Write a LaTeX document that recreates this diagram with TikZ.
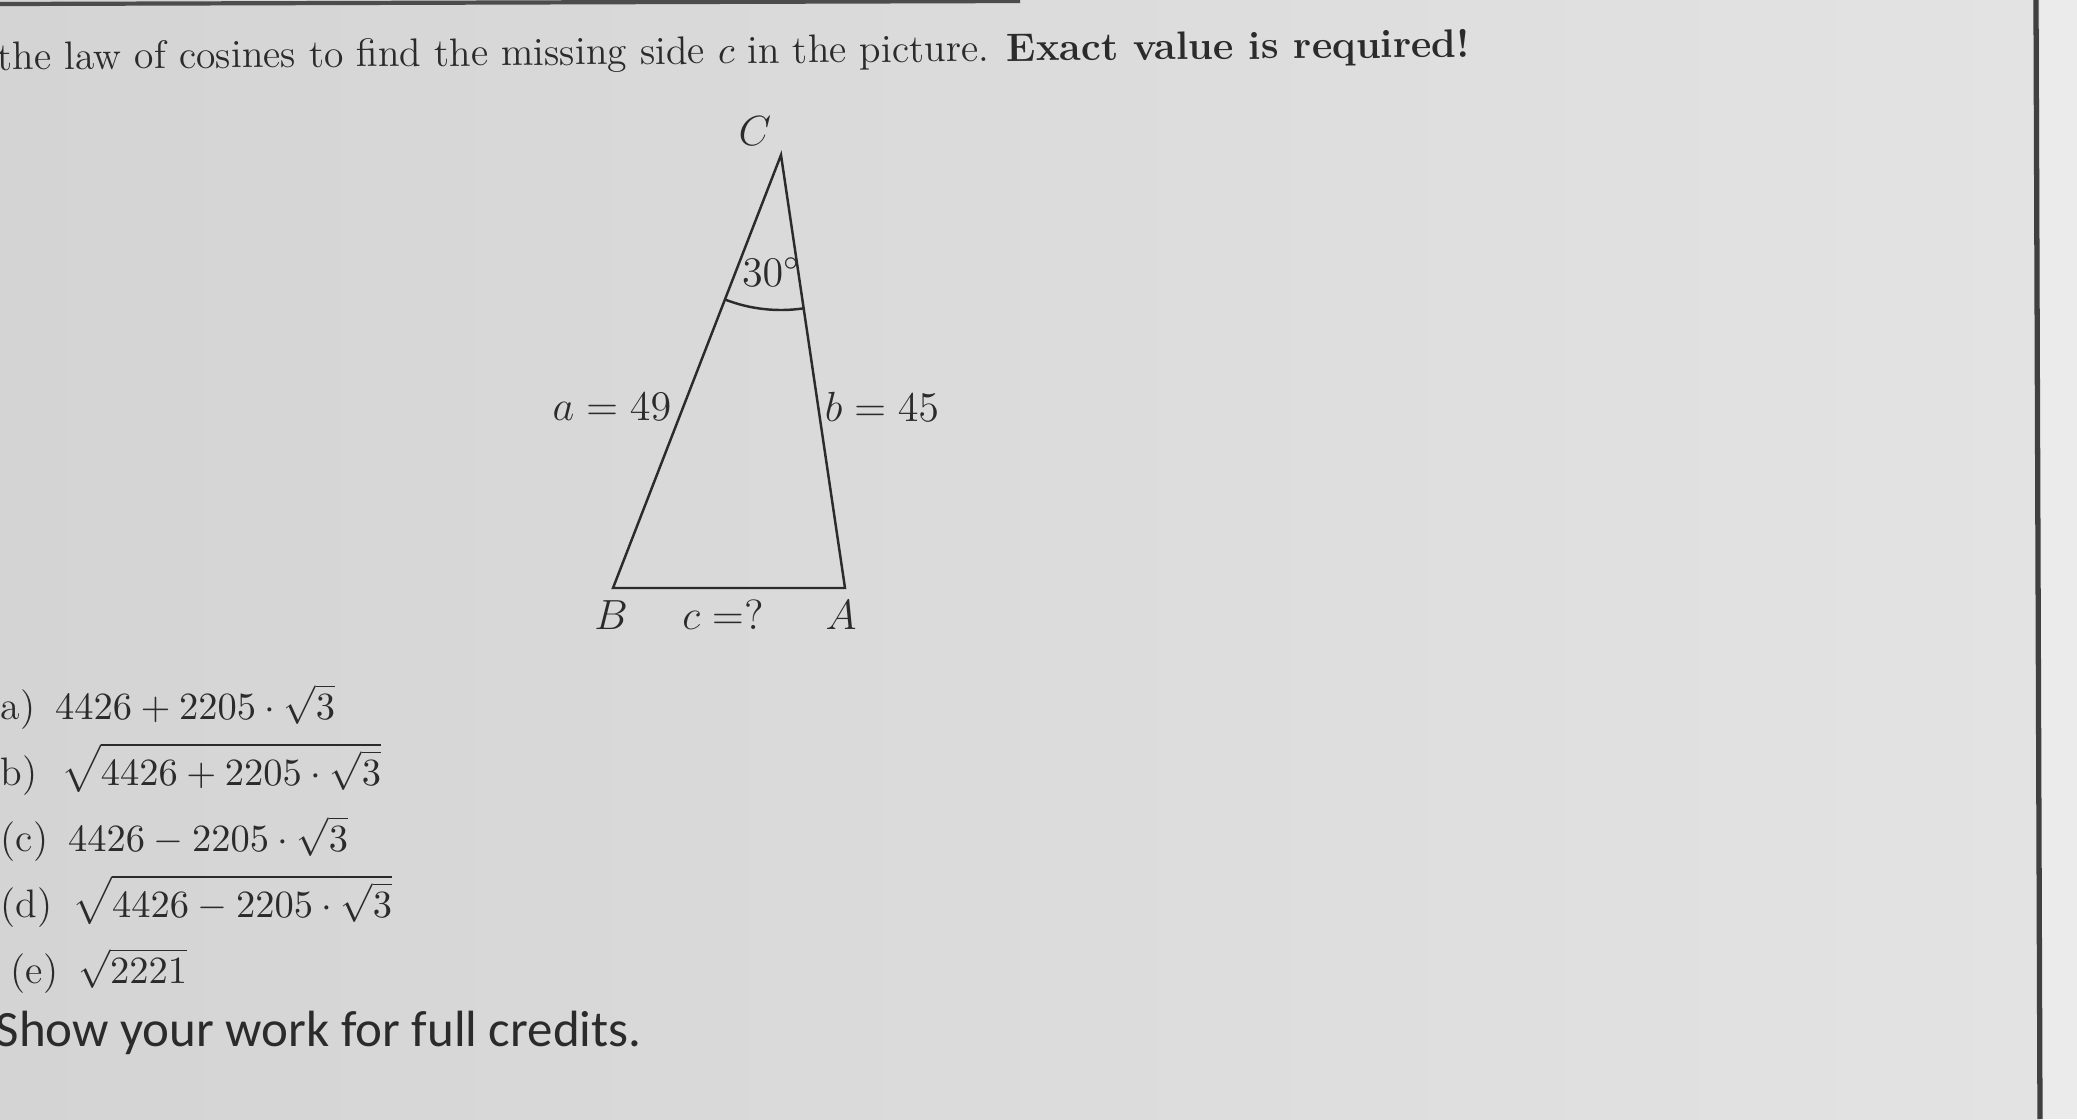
\documentclass[tikz,border=0pt]{standalone}
\usepackage{amsmath,amssymb}
\usepackage{fontspec}
\newfontfamily\notefont{Carlito}
\usetikzlibrary{angles,quotes}
\definecolor{ink}{HTML}{2B2B2B}
\definecolor{screen}{HTML}{D4D4D4}
\definecolor{screenlight}{HTML}{E3E3E3}

\begin{document}
\begin{tikzpicture}[x=1cm,y=1cm,font=\fontsize{12}{14}\selectfont,text=ink,
  side/.style={draw=ink,line width=0.7pt},
  lbl/.style={inner sep=0pt},
  opt/.style={anchor=base west,inner sep=0pt,font=\fontsize{11.3}{13}\selectfont}]
% screen
\fill[left color=screen,right color=screenlight] (0,0) rectangle (20.4,-11.19);
\fill[screenlight!70!white] (20.4,0) rectangle (20.77,-11.19);
\useasboundingbox (0,0) rectangle (20.77,-11.19);
\draw[black!70,line width=1.2pt] (0,-0.04) -- (10.2,-0.01);
\draw[black!75,line width=1.5pt] (20.36,0) -- (20.40,-11.19);
% question
\node[opt,rotate=0.5] (title) at (-0.03,-0.7)
  {the law of cosines to find the missing side $c$ in the picture. \textbf{Exact value is required!}};
% triangle
\coordinate (C) at (7.81,-1.55);
\coordinate (B) at (6.13,-5.88);
\coordinate (A) at (8.45,-5.88);
\draw[side] (B) -- (C) -- (A) -- cycle;
\pic[draw=ink,line width=0.7pt,angle radius=1.55cm] {angle=B--C--A};
\node[lbl] (lC) at (7.55,-1.31) {$C$};
\node[lbl] (ang) at (7.71,-2.72) {$30^\circ$};
\node[lbl] (la) at (6.12,-4.07) {$a=49$};
\node[lbl] (lb) at (8.82,-4.07) {$b=45$};
\node[lbl] (lB) at (6.11,-6.15) {$B$};
\node[lbl] (lc) at (7.23,-6.15) {$c=$?};
\node[lbl] (lA) at (8.41,-6.15) {$A$};
% answers
\node[opt] (oa) at (0,-7.19) {a)\hspace{0.5em}$4426+2205\cdot\sqrt{3}$};
\node[opt] (ob) at (0,-7.85) {b)\hspace{0.6em}$\sqrt{4426+2205\cdot\sqrt{3}}$};
\node[opt] (oc) at (0,-8.51) {(c)\hspace{0.5em}$4426-2205\cdot\sqrt{3}$};
\node[opt] (od) at (0,-9.17) {(d)\hspace{0.5em}$\sqrt{4426-2205\cdot\sqrt{3}}$};
\node[opt] (oe) at (0.1,-9.83) {(e)\hspace{0.5em}$\sqrt{2221}$};
\node[opt,font=\notefont\fontsize{14.5}{17}\selectfont] (work) at (-0.05,-10.46) {Show your work for full credits.};
\end{tikzpicture}
\end{document}
